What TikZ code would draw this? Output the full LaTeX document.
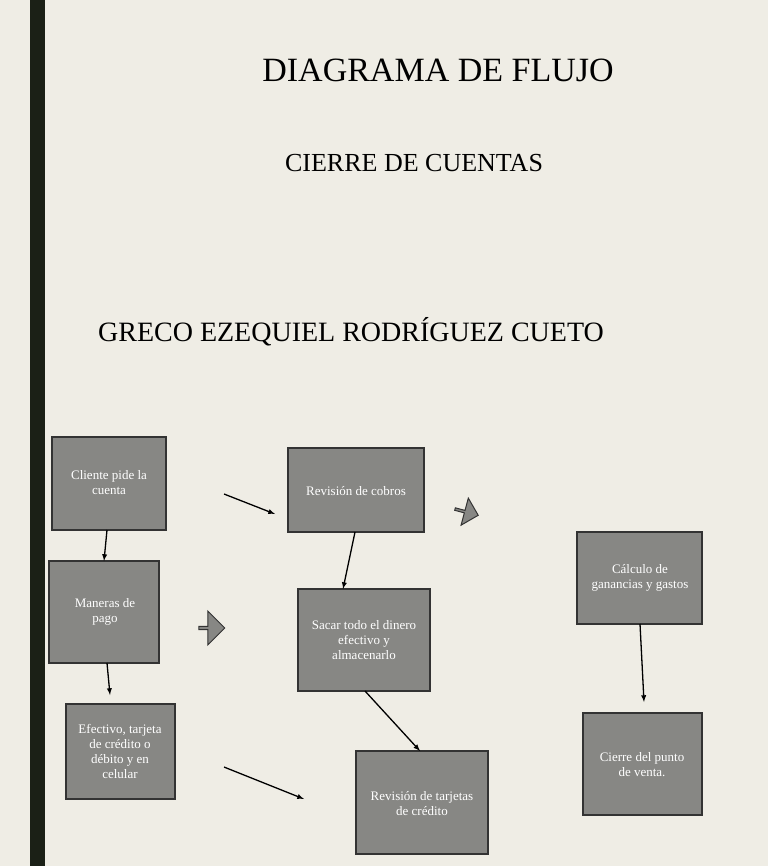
\documentclass[tikz,border=0pt]{standalone}
\usepackage{fontspec}
\setmainfont{Liberation Serif}
\usetikzlibrary{shapes.arrows}
\definecolor{bg}{HTML}{EFEDE5}
\definecolor{boxf}{HTML}{878784}
\definecolor{bar}{HTML}{1B2016}
\begin{document}
\begin{tikzpicture}[x=1pt,y=-1pt,
  bx/.style={draw=black!80,line width=1.2pt,fill=boxf,text=white,font=\fontsize{13}{15}\selectfont,align=center},
  ar/.style={-latex,line width=1.3pt},
  blk/.style={single arrow,draw=black!80,line width=1pt,fill=boxf,minimum height=26pt,minimum width=34pt,single arrow head extend=5pt,inner sep=0pt}]
\fill[bg] (0,0) rectangle (768,866);
\useasboundingbox (0,0) rectangle (768,866);
\fill[bar] (30,0) rectangle (45,866);
\node (t1) at (438,70) {\fontsize{34}{38}\selectfont DIAGRAMA DE FLUJO};
\node (t2) at (414,163) {\fontsize{26}{30}\selectfont CIERRE DE CUENTAS};
\node (t3) at (351,332) {\fontsize{28}{32}\selectfont GRECO EZEQUIEL RODRÍGUEZ CUETO};
\draw[bx] (52,437) rectangle (166,530); \node[text=white,font=\fontsize{13}{15}\selectfont,align=center] (a) at (109,483) {Cliente pide la\\cuenta};
\draw[bx] (288,448) rectangle (424,532); \node[text=white,font=\fontsize{13}{15}\selectfont] (b) at (356,491) {Revisión de cobros};
\draw[bx] (49,561) rectangle (159,663); \node[text=white,font=\fontsize{13}{15}\selectfont,align=center] (c) at (105,612) {Maneras de\\pago};
\draw[bx] (298,589) rectangle (430,691); \node[text=white,font=\fontsize{13}{15}\selectfont,align=center] (d) at (364,640) {Sacar todo el dinero\\efectivo y\\almacenarlo};
\draw[bx] (66,704) rectangle (175,799); \node[text=white,font=\fontsize{13}{15}\selectfont,align=center] (e) at (120,751) {Efectivo, tarjeta\\de crédito o\\débito y en\\celular};
\draw[bx] (356,751) rectangle (488,854); \node[text=white,font=\fontsize{13}{15}\selectfont,align=center] (f) at (422,804) {Revisión de tarjetas\\de crédito};
\draw[bx] (577,532) rectangle (702,624); \node[text=white,font=\fontsize{13}{15}\selectfont,align=center] (g) at (640,578) {Cálculo de\\ganancias y gastos};
\draw[bx] (583,713) rectangle (702,815); \node[text=white,font=\fontsize{13}{15}\selectfont,align=center] (h) at (642,765) {Cierre del punto\\de venta.};
\coordinate (a1) at (107,530); \coordinate (c0) at (104,561);
\coordinate (c1) at (107,663); \coordinate (e0) at (110,695);
\coordinate (b1) at (355,532); \coordinate (d0) at (343,589);
\coordinate (d1) at (365,691); \coordinate (f0) at (420,751);
\coordinate (g1) at (640,624); \coordinate (h0) at (644,702);
\coordinate (p1) at (224,494); \coordinate (p2) at (275,514);
\coordinate (q1) at (224,767); \coordinate (q2) at (304,799);
\draw[ar] (a1) -- (c0);
\draw[ar] (c1) -- (e0);
\draw[ar] (b1) -- (d0);
\draw[ar] (d1) -- (f0);
\draw[ar] (g1) -- (h0);
\draw[ar] (p1) -- (p2);
\draw[ar] (q1) -- (q2);
\node[blk] (k1) at (211,628) {};
\node[blk,minimum height=24pt,minimum width=28pt,rotate=-15] (k2) at (466,512) {};
\end{tikzpicture}
\end{document}
